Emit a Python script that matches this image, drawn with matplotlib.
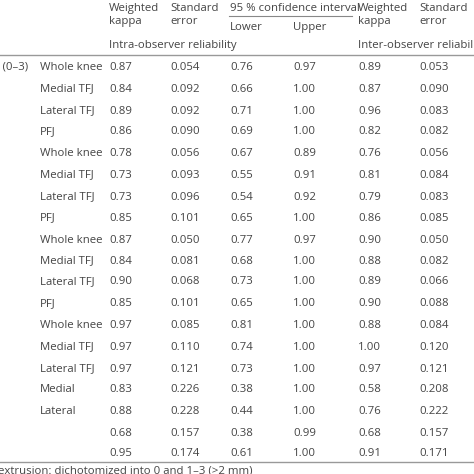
import matplotlib
matplotlib.use("Agg")
import matplotlib.pyplot as plt

labels = ["Whole knee","Medial TFJ","Lateral TFJ","PFJ","Whole knee","Medial TFJ","Lateral TFJ","PFJ",
          "Whole knee","Medial TFJ","Lateral TFJ","PFJ","Whole knee","Medial TFJ","Lateral TFJ","Medial","Lateral","",""]
kappa1 = ["0.87","0.84","0.89","0.86","0.78","0.73","0.73","0.85","0.87","0.84","0.90","0.85","0.97","0.97","0.97","0.83","0.88","0.68","0.95"]
se1 = ["0.054","0.092","0.092","0.090","0.056","0.093","0.096","0.101","0.050","0.081","0.068","0.101","0.085","0.110","0.121","0.226","0.228","0.157","0.174"]
lower = ["0.76","0.66","0.71","0.69","0.67","0.55","0.54","0.65","0.77","0.68","0.73","0.65","0.81","0.74","0.73","0.38","0.44","0.38","0.61"]
upper = ["0.97","1.00","1.00","1.00","0.89","0.91","0.92","1.00","0.97","1.00","1.00","1.00","1.00","1.00","1.00","1.00","1.00","0.99","1.00"]
kappa2 = ["0.89","0.87","0.96","0.82","0.76","0.81","0.79","0.86","0.90","0.88","0.89","0.90","0.88","1.00","0.97","0.58","0.76","0.68","0.91"]
se2 = ["0.053","0.090","0.083","0.082","0.056","0.084","0.083","0.085","0.050","0.082","0.066","0.088","0.084","0.120","0.121","0.208","0.222","0.157","0.171"]

W = H = 474
fig = plt.figure(figsize=(4.74, 4.74), dpi=100)
fig.patch.set_facecolor("white")
ax = fig.add_axes([0, 0, 1, 1])
ax.set_xlim(0, W); ax.set_ylim(H, 0); ax.axis("off")

col = "#444444"
fs = 8.2
fam = ["Open Sans", "DejaVu Sans"]
def t(x, y, s, **kw):
    ax.text(x, y, s, color=col, fontsize=fs, family=fam, va="center", ha="left", **kw)

xs = [109, 170, 230, 293, 358, 419]
t(109, 8, "Weighted"); t(109, 21, "kappa")
t(170, 8, "Standard"); t(170, 21, "error")
t(230, 8, "95 % confidence interval")
t(230, 27, "Lower"); t(293, 27, "Upper")
t(358, 8, "Weighted"); t(358, 21, "kappa")
t(419, 8, "Standard"); t(419, 21, "error")
t(109, 45, "Intra-observer reliability")
t(358, 45, "Inter-observer reliability")
ax.plot([229, 352], [15.5, 15.5], color="#888888", lw=0.8)
ax.plot([0, W], [55, 55], color="#999999", lw=1.0)
ax.plot([0, W], [462, 462], color="#999999", lw=1.0)

ys = [67,89,111,132,153,175,197,218,240,261,282,304,326,347,369,390,411,433,454]
t(-6, ys[0], "c (0–3)")
for i, y in enumerate(ys):
    t(40, y, labels[i])
    for x, arr in zip(xs, [kappa1, se1, lower, upper, kappa2, se2]):
        t(x, y, arr[i])
t(-2, 471, "extrusion: dichotomized into 0 and 1–3 (>2 mm)")

fig.savefig("out.png", dpi=100)
